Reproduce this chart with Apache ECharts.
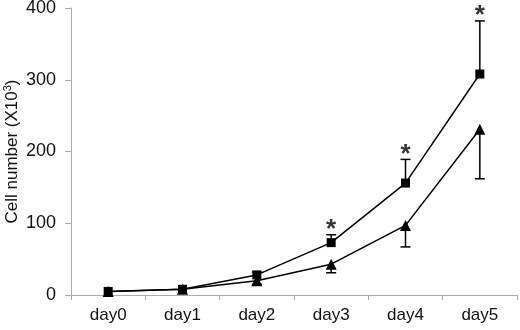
<!DOCTYPE html>
<html>
<head>
<meta charset="utf-8">
<script src="https://cdn.jsdelivr.net/npm/echarts@6/dist/echarts.min.js"></script>
<style>
  html, body { margin: 0; padding: 0; background: #fff; }
  #chart { width: 520px; height: 330px; }
</style>
</head>
<body>
<div id="chart"></div>
<script>
// data
const categories = ["day0", "day1", "day2", "day3", "day4", "day5"];
const yTicks = [0, 100, 200, 300, 400];
const squareMean = [5, 8, 28, 73, 156, 308];
const squareErrUp = [0, 0, 4, 11, 33, 74];
const triangleMean = [5, 8, 20, 43, 97, 231];
const triangleErrDown = [0, 0, 5, 12, 30, 69];
const starDays = [3, 4, 5];

const chart = echarts.init(document.getElementById("chart"));

// error bar: vertical line + cap, drawn through the axis scales
const errorBar = (means, errs, dir) => (params, api) => {
  const i = api.value(0);
  const m = means[i];
  const e = errs[i];
  if (!e) return null;
  const p0 = api.coord([i, m]);
  const p1 = api.coord([i, m + dir * e]);
  const cap = 5;
  return {
    type: "group",
    children: [
      { type: "line", shape: { x1: p0[0], y1: p0[1], x2: p1[0], y2: p1[1] }, style: { stroke: "#000", lineWidth: 1.5 } },
      { type: "line", shape: { x1: p1[0] - cap, y1: p1[1], x2: p1[0] + cap, y2: p1[1] }, style: { stroke: "#000", lineWidth: 1.5 } },
    ],
  };
};

const option = {
  animation: false,
  textStyle: { fontFamily: "Liberation Sans, Arial, sans-serif" },
  grid: { left: 71, right: 3, top: 8, bottom: 35, outerBoundsMode: "none", containLabel: false },
  xAxis: {
    type: "category",
    data: categories,
    boundaryGap: true,
    axisLine: { lineStyle: { color: "#aaa", width: 1 } },
    axisTick: { show: true, length: 5, lineStyle: { color: "#aaa" } },
    axisLabel: { color: "#111", fontSize: 17, margin: 12 },
  },
  yAxis: {
    type: "value",
    min: yTicks[0],
    max: yTicks[yTicks.length - 1],
    interval: 100,
    splitLine: { show: false },
    axisLine: { show: true, lineStyle: { color: "#aaa", width: 1 } },
    axisTick: { show: true, length: 6, lineStyle: { color: "#aaa" } },
    axisLabel: { color: "#111", fontSize: 18, margin: 15 },
    name: "{a|Cell number (X10}{s|3}{a|)}",
    nameLocation: "middle",
    nameGap: 49,
    nameMoveOverlap: false,
    nameRotate: 90,
    nameTextStyle: {
      rich: {
        a: { fontSize: 17, color: "#111", fontFamily: "Liberation Sans, Arial, sans-serif" },
        s: { fontSize: 11, color: "#111", verticalAlign: "top", padding: [0, 0, 9, 0], fontFamily: "Liberation Sans, Arial, sans-serif" },
      },
    },
  },
  series: [
    {
      type: "line",
      data: triangleMean,
      symbol: "triangle",
      symbolSize: 11,
      lineStyle: { color: "#000", width: 1.5 },
      itemStyle: { color: "#000" },
      z: 3,
    },
    {
      type: "line",
      data: squareMean,
      symbol: "rect",
      symbolSize: 9,
      lineStyle: { color: "#000", width: 1.5 },
      itemStyle: { color: "#000" },
      z: 3,
    },
    {
      type: "custom",
      renderItem: errorBar(squareMean, squareErrUp, 1),
      data: categories.map((c, i) => [i]),
      z: 2,
    },
    {
      type: "custom",
      renderItem: errorBar(triangleMean, triangleErrDown, -1),
      data: categories.map((c, i) => [i]),
      z: 2,
    },
    {
      // significance stars above the upper error caps
      type: "scatter",
      symbolSize: 0,
      data: starDays.map((d) => [d, squareMean[d] + squareErrUp[d]]),
      label: {
        show: true,
        formatter: "*",
        position: "top",
        distance: -8,
        fontSize: 26,
        fontWeight: "bold",
        color: "#000",
      },
      silent: true,
    },
  ],
};

chart.setOption(option);
</script>
</body>
</html>
